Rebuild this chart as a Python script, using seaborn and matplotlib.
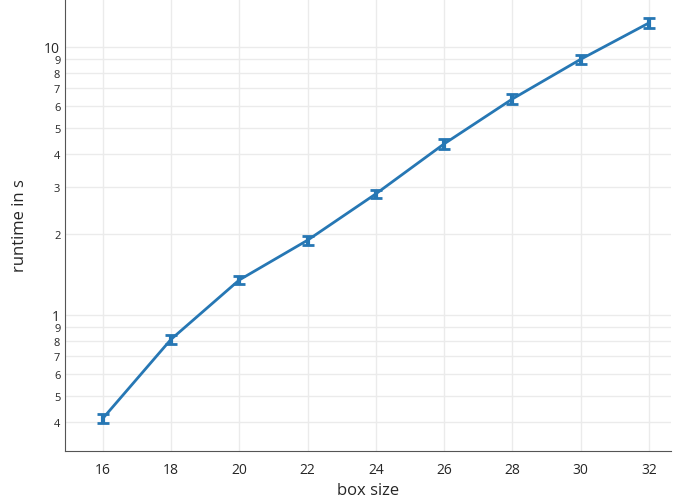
import numpy as np
import pandas as pd
import seaborn as sns
import matplotlib.pyplot as plt
from matplotlib.ticker import LogLocator, FuncFormatter

box_size = [16, 18, 20, 22, 24, 26, 28, 30, 32]
runtime = [0.41, 0.81, 1.35, 1.9, 2.83, 4.35, 6.4, 9.0, 12.3]
runtime_err = [0.015, 0.03, 0.05, 0.07, 0.1, 0.18, 0.25, 0.35, 0.5]

sns.set_style("white")
plt.rcParams["font.family"] = ["Open Sans", "DejaVu Sans"]

df = pd.DataFrame({"box size": box_size, "runtime in s": runtime})
color = "#2677b4"

fig = plt.figure(figsize=(6.85, 5.02), dpi=100)
ax = fig.add_axes([0.095, 0.1, 0.885, 0.9])
ax.set_yscale("log")
sns.lineplot(data=df, x="box size", y="runtime in s", color=color, lw=2, ax=ax)
ax.errorbar(box_size, runtime, yerr=runtime_err, fmt="none", ecolor=color,
            elinewidth=3, capsize=4, capthick=2)

ax.set_xlim(14.9, 32.65)
ax.set_ylim(0.311, 15.1)
ax.set_xticks(box_size)
ax.yaxis.set_major_locator(LogLocator(base=10))
ax.yaxis.set_minor_locator(LogLocator(base=10, subs=np.arange(2, 10)))
ax.yaxis.set_major_formatter(FuncFormatter(lambda v, p: f"{v:g}"))
ax.yaxis.set_minor_formatter(FuncFormatter(
    lambda v, p: f"{v / 10 ** np.floor(np.log10(v) + 1e-9):.0f}"))
ax.tick_params(axis="y", which="major", labelsize=10, length=0)
ax.tick_params(axis="y", which="minor", labelsize=8, length=0)
ax.tick_params(axis="x", labelsize=10, length=0, pad=8)
ax.grid(True, which="both", color="#ebebeb", lw=1)
ax.set_axisbelow(True)
for s in ["top", "right"]:
    ax.spines[s].set_visible(False)
for s in ["left", "bottom"]:
    ax.spines[s].set_color("#555555")
    ax.spines[s].set_linewidth(0.8)
ax.set_xlabel("box size", fontsize=12, labelpad=4)
ax.set_ylabel("runtime in s", fontsize=12, labelpad=12)

fig.savefig("out.png", dpi=100)
